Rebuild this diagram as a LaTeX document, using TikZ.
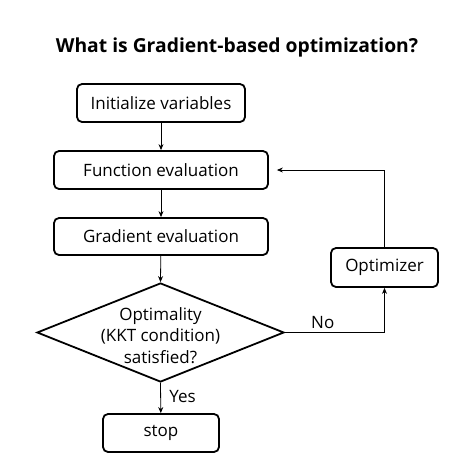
\documentclass[tikz,border=0pt]{standalone}
\usepackage{fontspec}
\setmainfont{Open Sans}
\usetikzlibrary{shapes.geometric,arrows.meta,calc}
\begin{document}
\begin{tikzpicture}[x=1pt,y=-1pt,
  box/.style={draw, line width=1.8pt, rounded corners=5pt, inner sep=0pt, font=\fontsize{17}{20}\selectfont},
  arr/.style={draw, line width=0.8pt, -{Stealth[length=6pt,width=5pt]}},
  lbl/.style={font=\fontsize{17}{20}\selectfont}]
\useasboundingbox (0,0) rectangle (474,474);
\node[font=\bfseries\fontsize{19.3}{22}\selectfont] (title) at (237,47) {What is Gradient-based optimization?};
\node[box, minimum width=168pt, minimum height=38pt] (init) at (161,103) {Initialize variables};
\node[box, minimum width=214pt, minimum height=38pt] (fe) at (161,170) {Function evaluation};
\node[box, minimum width=214pt, minimum height=37pt] (ge) at (161,236.5) {Gradient evaluation};
\node[box, minimum width=107pt, minimum height=39pt] (opt) at (384.5,267.5) {Optimizer};
\node[draw, diamond, line width=1.8pt, minimum width=247pt, minimum height=99pt, inner sep=0pt] (d) at (160.5,332.5) {};
\node[align=center, font=\fontsize{17}{21.5}\selectfont] (dt) at ($(d.center)+(0,3)$) {Optimality\\(KKT condition)\\satisfied?};
\node[box, minimum width=116pt, minimum height=38pt] (stop) at (161,433) {stop};
\draw[arr] (init) -- (fe);
\draw[arr] (fe) -- (ge);
\draw[arr] (ge) -- (d.north);
\draw[arr] (d.south) -- (stop) node[lbl, pos=0.45, right=5pt] (yes) {Yes};
\draw[arr] (d.east) -| (opt.south) node[lbl, pos=0.19, above=0pt] (no) {No};
\draw[arr, shorten >=8pt] (opt.north) |- (fe.east);
\end{tikzpicture}
\end{document}
